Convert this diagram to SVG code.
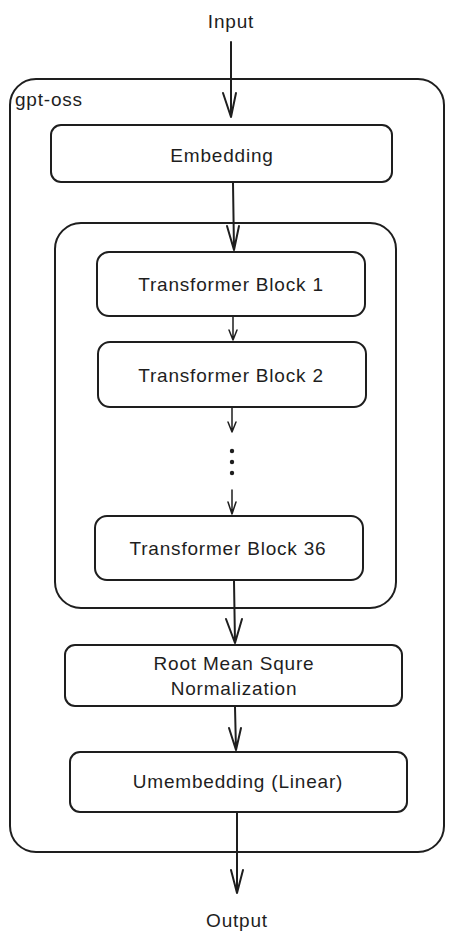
<svg xmlns="http://www.w3.org/2000/svg" width="454" height="943" viewBox="0 0 454 943">
<style>
.box{fill:#fff;stroke:#1e1e1e;stroke-width:2}
.frame{fill:none;stroke:#1e1e1e;stroke-width:2}
.t{font-family:"Liberation Sans",Arial,sans-serif;font-size:19px;letter-spacing:0.8px;fill:#1e1e1e;text-anchor:middle;dominant-baseline:central}
.c{fill:none;stroke:#1e1e1e;stroke-width:2;stroke-linecap:round;stroke-linejoin:round}
.c2{fill:none;stroke:#1e1e1e;stroke-width:1.5;stroke-linecap:round;stroke-linejoin:round}
</style>
<rect width="454" height="943" fill="#fff"/>
<g id="gpt-oss">
<rect class="frame" x="10" y="79" width="434" height="773" rx="26"/>
<text class="t" x="15" y="99" style="text-anchor:start">gpt-oss</text>
</g>
<g id="stack">
<rect class="frame" x="55" y="223" width="341" height="385" rx="26"/>
</g>
<g id="embedding">
<rect class="box" x="51" y="125" width="341" height="57" rx="10"/>
<text class="t" x="222" y="155">Embedding</text>
</g>
<g id="tb1">
<rect class="box" x="97" y="252" width="268" height="64" rx="12"/>
<text class="t" x="231" y="284">Transformer Block 1</text>
</g>
<g id="tb2">
<rect class="box" x="98" y="342" width="268" height="65" rx="12"/>
<text class="t" x="231" y="375">Transformer Block 2</text>
</g>
<g id="tb36">
<rect class="box" x="95" y="516" width="268" height="64" rx="12"/>
<text class="t" x="228" y="548">Transformer Block 36</text>
</g>
<g id="rms">
<rect class="box" x="65" y="645" width="337" height="61" rx="10"/>
<text class="t" x="234" y="663">Root Mean Squre</text>
<text class="t" x="234" y="688">Normalization</text>
</g>
<g id="unembed">
<rect class="box" x="70" y="752" width="337" height="60" rx="10"/>
<text class="t" x="238" y="781">Umembedding (Linear)</text>
</g>
<g id="input"><text class="t" x="231" y="21">Input</text></g>
<g id="output"><text class="t" x="237" y="920">Output</text></g>
<g id="dots">
<circle cx="232" cy="451" r="2.2" fill="#1e1e1e"/>
<circle cx="232" cy="462" r="2.2" fill="#1e1e1e"/>
<circle cx="232" cy="473" r="2.2" fill="#1e1e1e"/>
</g>
<g id="connectors">
<path class="c" d="M231 42 L231 117 M223 93 L231 117 L236 93"/>
<path class="c" d="M233 183 L234 250 M227 226 L234 250 L239 226"/>
<path class="c2" d="M233 317 L233 340 M229 330 L233 340 L237 330"/>
<path class="c2" d="M232 408 L232 432 M228 422 L232 432 L236 422"/>
<path class="c2" d="M232 490 L232 514 M228 502 L232 514 L236 502"/>
<path class="c" d="M234 581 L235 643 M226 619 L235 643 L242 619"/>
<path class="c" d="M235 707 L236 750 M229 728 L236 750 L241 728"/>
<path class="c" d="M237 813 L237 893 M231 870 L237 893 L243 870"/>
</g>
</svg>
